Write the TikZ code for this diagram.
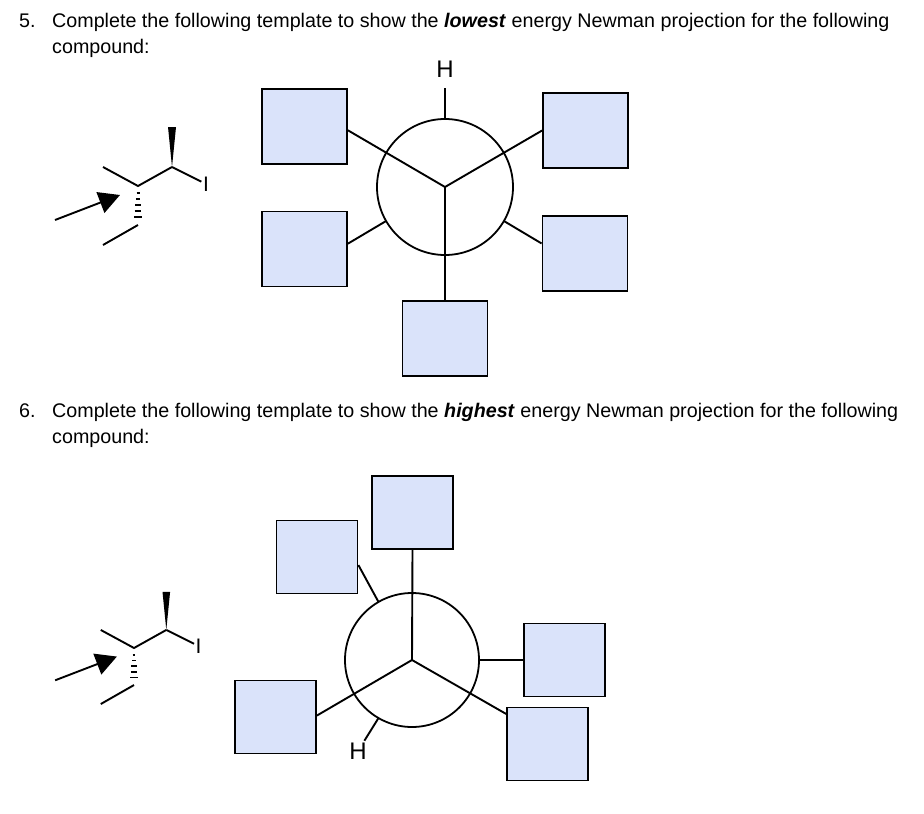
\documentclass[tikz,border=0pt]{standalone}
\usepackage{fontspec}
\setmainfont{Liberation Sans}
\usetikzlibrary{arrows.meta}
\definecolor{boxblue}{RGB}{218,227,250}

\begin{document}
\begin{tikzpicture}[x=1pt,y=-1pt,
    answerbox/.style ={rectangle, draw=black, fill=boxblue, line width=1.8pt,
      minimum width=85pt, minimum height=75pt, inner sep=0pt},
    smallbox/.style ={answerbox, minimum width=81pt, minimum height=73pt},
    newman/.style ={circle, draw, line width=1.8pt, minimum size=136pt, inner sep=0pt, outer sep=0pt},
    bond/.style ={line width=1.9pt},
    atom/.style ={inner sep=0pt, font=\fontsize{24}{24}\selectfont},
    question/.style ={anchor=base west, inner sep=0pt, font=\fontsize{19.7}{22}\selectfont}]
   \fill[white] (0,0) rectangle (924,814);
   \useasboundingbox (0,0) rectangle (924,814);
   % question 5
   \node[question] (q5num) at (19,27) {5.};
   \node[question] (q5a) at (52,27) {Complete the following template to show the \textbf{\textit{lowest}} energy Newman projection for the following};
   \node[question] (q5b) at (52,53) {compound:};
   \node[newman] (front) at (445,187) {};
   \node[answerbox] (tl) at (304.5,126.5) {};
   \node[answerbox] (tr) at (585.5,130.5) {};
   \node[answerbox] (bl) at (304.5,249) {};
   \node[answerbox] (br) at (585,253.5) {};
   \node[answerbox] (bot) at (445,338.5) {};
   \node[atom, outer sep=10pt] (h1) at (445,69.5) {H};
   \draw[bond] (front.center) to (tl.-5);
   \draw[bond] (front.center) to (tr.west);
   \draw[bond] (front.center) to (bot.north);
   \draw[bond] (front.north) to (h1.south);
   \draw[bond] (front.210) to (bl.7);
   \draw[bond] (front.330) to (br.167);
   % question 6
   \node[question] (q6num) at (19,417) {6.};
   \node[question] (q6a) at (52,417) {Complete the following template to show the \textbf{\textit{highest}} energy Newman projection for the following};
   \node[question] (q6b) at (52,443) {compound:};
   \node[newman, minimum size=134pt] (front2) at (412,660) {};
   \node[smallbox] (top2) at (412.5,512.5) {};
   \node[smallbox] (ul2) at (317,557) {};
   \node[smallbox] (r2) at (564.5,660) {};
   \node[smallbox] (ll2) at (275.5,717) {};
   \node[smallbox] (lr2) at (547.5,744) {};
   \node[atom, outer sep=2pt] (h2) at (358,751) {H};
   \draw[bond] (front2.center) to (top2.south);
   \draw[bond] (front2.center) to (ll2.2);
   \draw[bond] (front2.center) to (lr2.144);
   \draw[bond] (front2.120) to (ul2.-11);
   \draw[bond] (front2.east) to (r2.west);
   \draw[bond] (front2.240) to (h2);
   % the compound, once for each question
   \foreach \n/\cx/\cy/\s in {1/138/186/1, 2/134/648/0.95} {
     \begin{scope}[shift={(\cx,\cy)}, scale=\s]
       \coordinate (c2\n) at (0,0);
       \coordinate (me\n) at (-35,-19);
       \coordinate (c3\n) at (34,-19);
       \coordinate (et\n) at (0,39);
       \coordinate (ch3\n) at (-35,59);
       \coordinate (tail\n) at (-83,34);
       \coordinate (tip\n) at (-18,9);
       \node[atom, font=\fontsize{21}{21}\selectfont, inner sep=1.5pt] (iod\n) at (68,-2) {I};
       \draw[bond] (me\n) -- (c2\n) -- (c3\n);
       \draw[bond] (c3\n) to (iod\n);
       \fill (c3\n) -- (30,-59) -- (38,-59) -- cycle;
       \foreach \k in {0,...,4}
         \draw[line width=1.7pt] (-\k*0.6-1.5,\k*6+7) -- (\k*0.6+1.5,\k*6+7);
       \draw[bond] (et\n) to (ch3\n);
       \draw[bond, -{Triangle[length=21pt, width=22pt]}] (tail\n) to (tip\n);
     \end{scope}
   }
 \end{tikzpicture}
\end{document}
